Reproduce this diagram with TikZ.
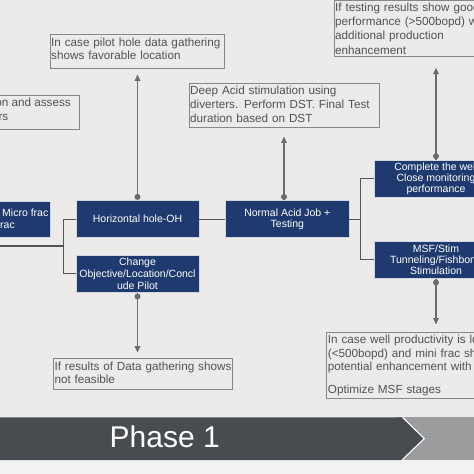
\documentclass[tikz,border=0pt]{standalone}
\usepackage{fontspec}
\setmainfont{Liberation Sans}
\usetikzlibrary{arrows.meta,calc}
\definecolor{bg}{RGB}{236,235,233}
\definecolor{navy}{RGB}{31,58,110}
\definecolor{gline}{RGB}{135,135,135}
\definecolor{gtext}{RGB}{82,82,82}
\definecolor{tline}{RGB}{85,85,85}
\definecolor{aline}{RGB}{108,108,108}
\definecolor{band}{RGB}{72,76,80}
\definecolor{bandl}{RGB}{155,156,158}
\definecolor{strip}{RGB}{242,242,242}
\begin{document}
\begin{tikzpicture}[x=1pt,y=-1pt,
  bluebox/.style={draw=white!80!navy, line width=0.6pt, fill=navy, text=white,
    minimum width=123pt, minimum height=37pt, inner sep=0pt, align=center,
    font=\fontsize{10.5}{11.7}\selectfont},
  btxt/.style={text=white, inner sep=0pt, font=\fontsize{10.5}{11.7}\selectfont},
  gbox/.style={draw=gline, line width=0.9pt, inner sep=0pt},
  gtxt/.style={text=gtext, inner sep=0pt, anchor=base west, align=left,
    text width=300pt, font=\fontsize{11.7}{#1}\selectfont},
  gtxt/.default=13.3,
  tree/.style={draw=tline, line width=1.3pt},
  arr/.style={draw=aline, line width=1.4pt, -{Triangle[length=6.5pt,width=5.5pt]}},
  dotn/.style={circle, fill=aline, minimum size=6pt, inner sep=0pt}
]
\path[use as bounding box] (0,0) rectangle (474,474);
\clip (0,0) rectangle (474,474);
\fill[bg] (0,0) rectangle (474,474);

% band
\fill[strip] (0,460) rectangle (474,474);
\fill[bandl] (395,417.3) rectangle (480,460);
\fill[band] (-5,417.3) -- (402.5,417.3) -- (424.3,438.6) -- (402,460) -- (-5,460) -- cycle;
\draw[white, line width=1.1pt] (402.5,417.3) -- (424.3,438.6) -- (402,460);
\node[text=white, anchor=base west, inner sep=0pt, font=\fontsize{30}{36}\selectfont] (ph) at (109.5,447.5) {Phase 1};

% gray text boxes
\node[gbox, minimum width=174pt, minimum height=34pt] (bA) at (137,51) {};
\node[gtxt] (tA) at (51,46) {In case pilot hole data gathering\\shows favorable location};

\node[gbox, minimum width=100pt, minimum height=34pt] (bB) at (29,112) {};
\node[text=gtext, inner sep=0pt, anchor=base east, font=\fontsize{11.7}{13.3}\selectfont] (tB1) at (71,106.7) {on and assess};
\node[text=gtext, inner sep=0pt, anchor=base east, font=\fontsize{11.7}{13.3}\selectfont] (tB2) at (8.5,120) {rs};

\node[gbox, minimum width=190pt, minimum height=44pt] (bC) at (284,105) {};
\node[gtxt=14.2] (tC) at (190,94.3) {Deep Acid stimulation using\\diverters. Perform DST. Final Test\\duration based on DST};

\node[gbox, minimum width=190pt, minimum height=55.5pt] (bD) at (429,28.5) {};
\node[gtxt=14.4] (tD) at (335,11) {If testing results show good\\performance (>500bopd) w\\additional production\\enhancement};

\node[gbox, minimum width=179pt, minimum height=30.6pt] (bE) at (142.8,374) {};
\node[gtxt=12.7] (tE) at (54.3,370.7) {If results of Data gathering shows\\not feasible};

\node[gbox, minimum width=190pt, minimum height=66.3pt] (bF) at (421.7,365.15) {};
\node[gtxt=13.7] (tF) at (327.7,343.3) {In case well productivity is lo\\(<500bopd) and mini frac sh\\potential enhancement with\\[8.9pt]Optimize MSF stages};

% blue boxes
\node[bluebox, minimum width=125pt, minimum height=36.7pt] (mf) at (-12.5,219.3) {};
\node[btxt, anchor=base east] (mf1) at (48.5,216.7) {Micro frac};
\node[btxt, anchor=base east] (mf2) at (15,228) {rac};

\node[bluebox] (hz) at (137.5,219.2) {Horizontal hole-OH};
\node[bluebox, minimum height=37.7pt] (ch) at (137.5,273.8) {Change\\Objective/Location/Concl\\ude Pilot};
\node[bluebox, minimum width=123.3pt] (na) at (287.3,219.2) {Normal Acid Job +\\Testing};
\node[bluebox, minimum width=124pt, minimum height=37.3pt, font=\fontsize{10.5}{10.7}\selectfont] (cw) at (436,178.7) {Complete the well\\Close monitoring\\performance};
\node[bluebox, minimum width=124pt, minimum height=37.7pt, font=\fontsize{10.5}{11.2}\selectfont] (ms) at (436,259.8) {MSF/Stim\\Tunneling/Fishbone\\Stimulation};

% tree connectors
\coordinate (lin) at (-5,246);
\coordinate (lj) at (63.3,246);
\coordinate (rj) at (360.7,219.2);
\draw[tree] (lin) -- (lj);
\draw[tree] (hz.west) -| (lj) |- (ch.west);
\draw[tree] (hz.east) -- (na.west);
\draw[tree] (na.east) -- (rj);
\draw[tree] (cw.west) -| (rj) |- (ms.west);

% arrows with dots
\draw[arr, shorten >=6pt] (hz.north) -- (hz.north |- bA.south);
\node[dotn] (d1) at ($(hz.north)+(0,-3.5)$) {};
\coordinate (naTop) at (na.north -| bC.south);
\draw[arr, shorten >=9pt] (naTop) -- (bC.south);
\node[dotn] (d2) at ($(naTop)+(0,-3.5)$) {};
\draw[arr, shorten >=11pt] (cw.north) -- (cw.north |- bD.south);
\node[dotn] (d3) at ($(cw.north)+(0,-3.5)$) {};
\draw[arr, shorten >=5.7pt] (ch.south) -- (ch.south |- bE.north);
\node[dotn] (d4) at ($(ch.south)+(0,3.5)$) {};
\draw[arr, shorten >=7pt] (ms.south) -- (ms.south |- bF.north);
\node[dotn] (d5) at ($(ms.south)+(0,3.5)$) {};
\end{tikzpicture}
\end{document}
